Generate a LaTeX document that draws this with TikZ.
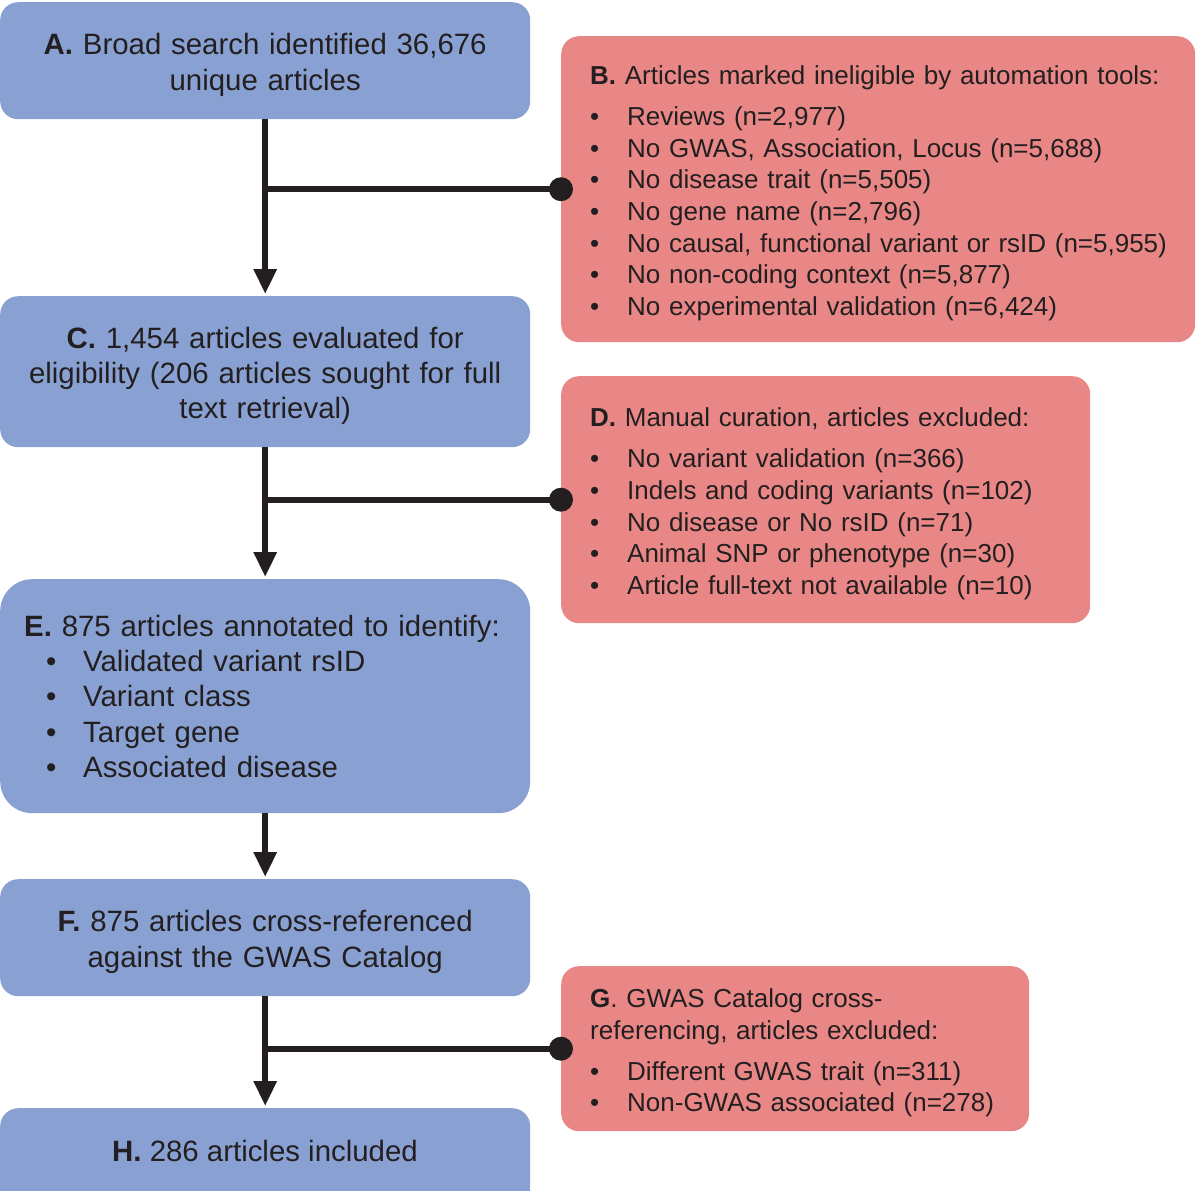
\documentclass[tikz,border=0pt]{standalone}
\usepackage{fontspec}
\setmainfont{Liberation Sans}
\usetikzlibrary{arrows.meta}
\definecolor{boxblue}{RGB}{137,161,210}
\definecolor{boxred}{RGB}{233,135,134}
\definecolor{ink}{RGB}{35,31,32}
\newcommand{\bl}{\makebox[37pt][l]{•}}
\newcommand{\ebl}{\hspace*{22pt}\makebox[37pt][l]{•}}
\newcommand{\bstrut}{\rule{0pt}{29.5pt}}
\newcommand{\rstrut}{\rule{0pt}{27pt}}
\begin{document}
\begin{tikzpicture}[x=1pt,y=-1pt,
  bluebox/.style={fill=boxblue, draw=none, rounded corners=18pt, text width=530pt,
    minimum width=530pt, text=ink, font=\fontsize{29.4pt}{35.3pt}\selectfont,
    align=center, inner sep=0pt, anchor=north west},
  redbox/.style={fill=boxred, draw=none, rounded corners=18pt, text=ink,
    font=\fontsize{26pt}{31.6pt}\selectfont, align=left, inner xsep=29pt,
    inner ysep=0pt, anchor=north west},
  flow/.style={line width=6pt, draw=ink, shorten >=2pt,
    -{Triangle[width=22pt,length=25pt]}},
  branch/.style={line width=6pt, draw=ink},
]
\useasboundingbox (0,0) rectangle (1200,1191);

% blue boxes
\node[bluebox, minimum height=117pt] (A) at (0,2)
  {\bstrut\textbf{A.} Broad search identified 36,676\\unique articles};
\node[bluebox, minimum height=151pt] (C) at (0,296)
  {\bstrut\textbf{C.} 1,454 articles evaluated for\\eligibility (206 articles sought for full\\text retrieval)};
\node[bluebox, minimum height=234pt, rounded corners=32pt, align=left,
  inner xsep=24pt, text width=482pt] (E) at (0,579)
  {\textbf{E.} 875 articles annotated to identify:\\
   \ebl Validated variant rsID\\
   \ebl Variant class\\
   \ebl Target gene\\
   \ebl Associated disease};
\node[bluebox, minimum height=117pt] (F) at (0,879)
  {\bstrut\textbf{F.} 875 articles cross-referenced\\against the GWAS Catalog};
\node[bluebox, minimum height=102pt] (H) at (0,1108) {};
\node[text=ink, font=\fontsize{29.4pt}{35.3pt}\selectfont, inner sep=0pt] (Htext) at (265,1151)
  {\textbf{H.} 286 articles included};

% red boxes
\node[redbox, minimum height=306pt, text width=576pt] (B) at (561,36)
  {\rstrut\textbf{B.} Articles marked ineligible by automation tools:\\[9.4pt]
   \bl Reviews (n=2,977)\\
   \bl No GWAS, Association, Locus (n=5,688)\\
   \bl No disease trait (n=5,505)\\
   \bl No gene name (n=2,796)\\
   \mbox{\bl No causal, functional variant or rsID (n=5,955)}\\
   \bl No non-coding context (n=5,877)\\
   \bl No experimental validation (n=6,424)};
\node[redbox, minimum height=247pt, text width=471pt] (D) at (561,376)
  {\rstrut\textbf{D.} Manual curation, articles excluded:\\[9.4pt]
   \bl No variant validation (n=366)\\
   \bl Indels and coding variants (n=102)\\
   \bl No disease or No rsID (n=71)\\
   \bl Animal SNP or phenotype (n=30)\\
   \bl Article full-text not available (n=10)};
\node[redbox, minimum height=165pt, text width=410pt] (G) at (561,966)
  {\rstrut\textbf{G}. GWAS Catalog cross-\\referencing, articles excluded:\\[9.4pt]
   \bl Different GWAS trait (n=311)\\
   \bl Non-GWAS associated (n=278)};

% connectors
\draw[flow] (A.south) -- (C.north);
\draw[flow] (C.south) -- (E.north);
\draw[flow] (E.south) -- (F.north);
\draw[flow] (F.south) -- (H.north);

\draw[branch] (B.west) -- (B.west -| A.south);
\fill[ink] (B.west) circle (12pt);
\draw[branch] (D.west) -- (D.west -| C.south);
\fill[ink] (D.west) circle (12pt);
\draw[branch] (G.west) -- (G.west -| F.south);
\fill[ink] (G.west) circle (12pt);
\end{tikzpicture}
\end{document}
